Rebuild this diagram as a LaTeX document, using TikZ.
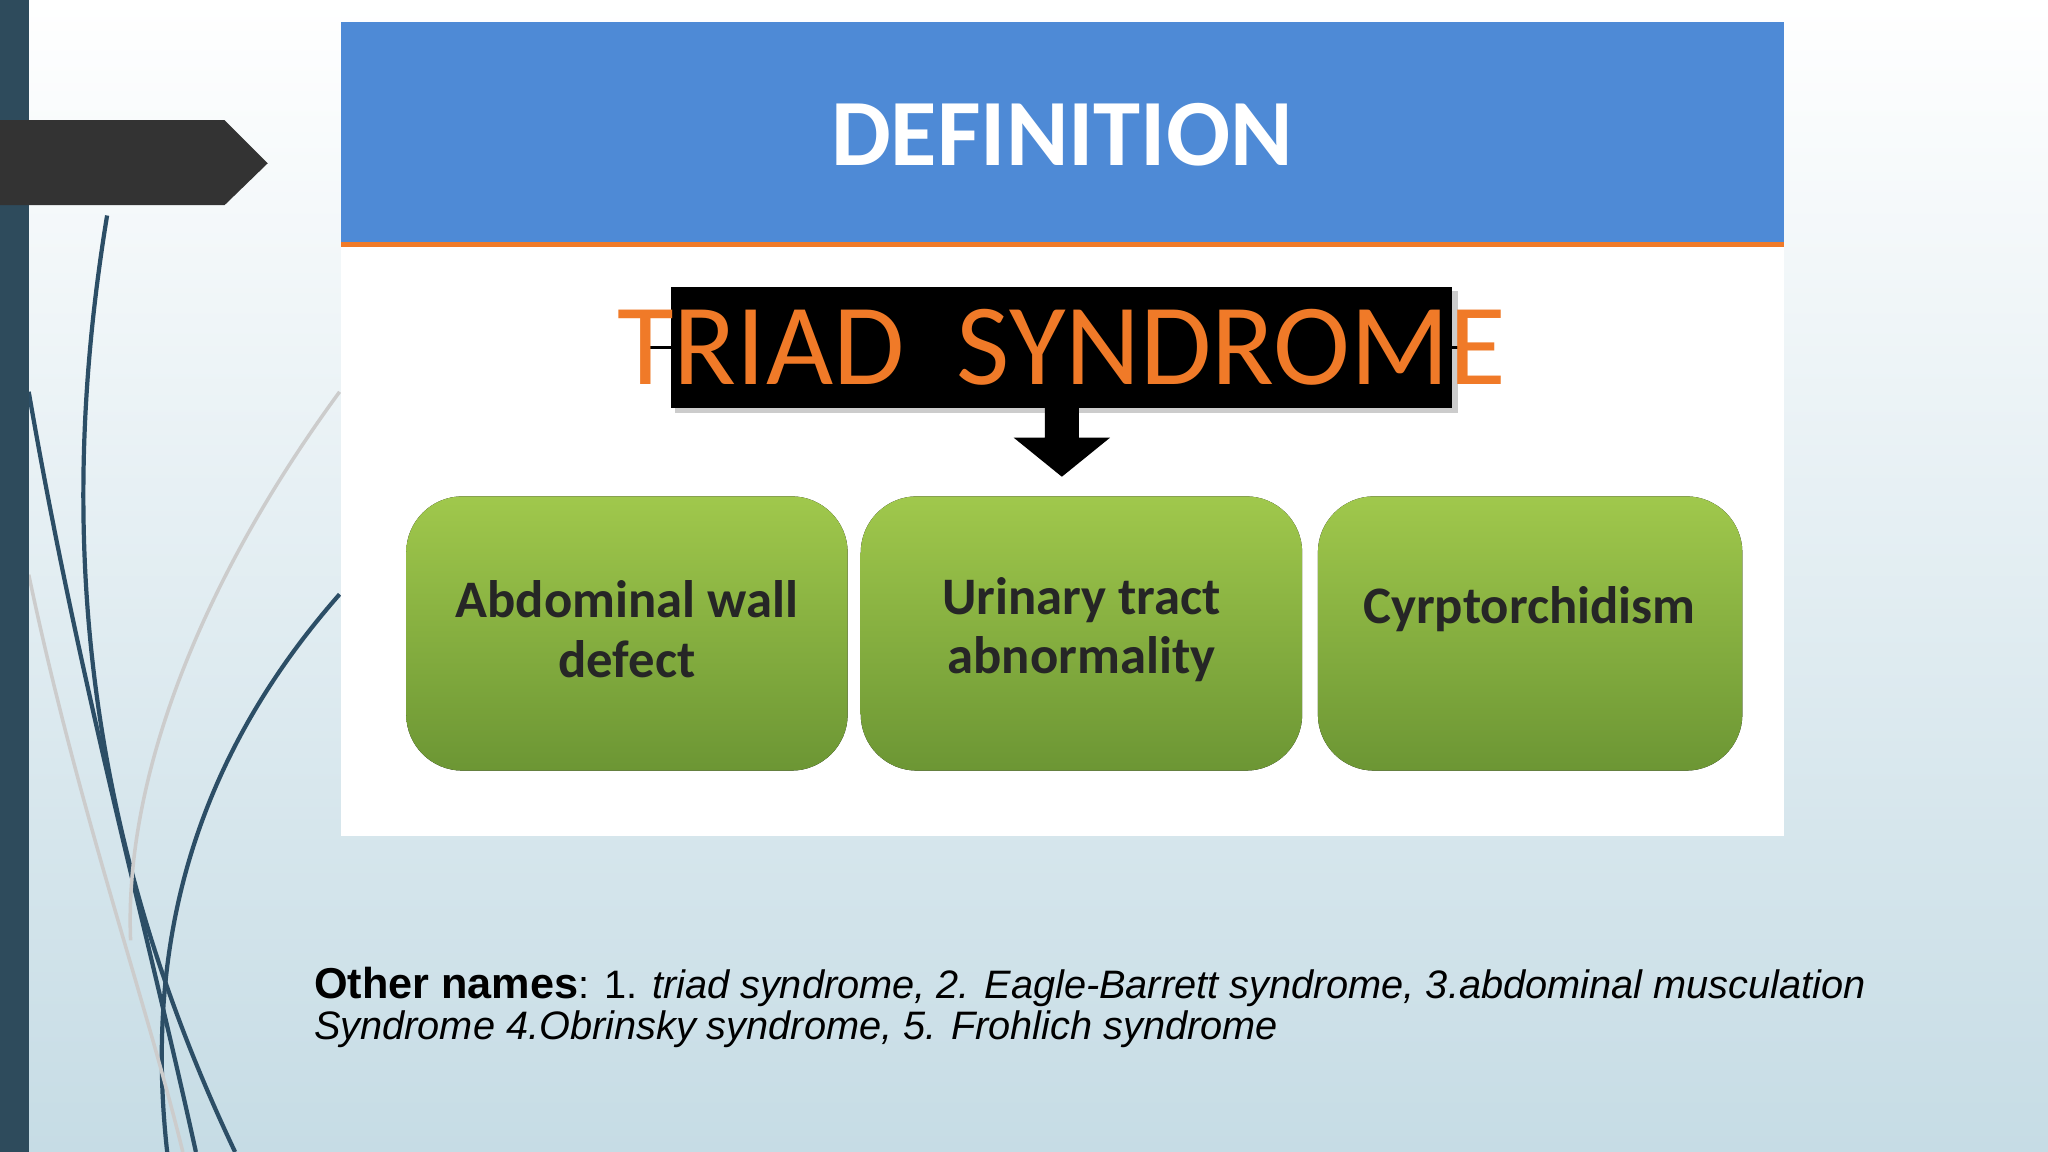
\documentclass[tikz,border=0pt]{standalone}
\usepackage{fontspec}
\setmainfont{Liberation Sans}
\newfontfamily\cali{Carlito}
\begin{document}
\begin{tikzpicture}[x=0.01306cm,y=-0.01306cm,
  gbox/.style={draw=none,rounded corners=16pt,top color=green1,bottom color=green2},
  gtxt/.style={font=\cali\bfseries\fontsize{15}{17}\selectfont,text=black!85,align=center},
  curve/.style={line width=1.2pt,draw=curvecol}]
\definecolor{bgbot}{HTML}{C6DCE5}
\definecolor{barcol}{HTML}{2E4B5C}
\definecolor{curvecol}{HTML}{2C4E66}
\definecolor{hdr}{HTML}{4E8AD6}
\definecolor{orng}{HTML}{F07A28}
\definecolor{green1}{HTML}{A0C84C}
\definecolor{green2}{HTML}{6C9634}
\useasboundingbox (0,0) rectangle (1568,882);
\shade[top color=white,bottom color=bgbot] (0,0) rectangle (1568,882);
% curves
\draw[curve] (82,165) .. controls (40,420) and (70,650) .. (180,882);
\draw[curve] (22,300) .. controls (60,520) and (110,700) .. (150,882);
\draw[curve] (260,455) .. controls (150,580) and (110,720) .. (128,882);
\draw[line width=1pt,draw=gray!40] (260,300) .. controls (150,450) and (95,600) .. (100,720);
\draw[line width=1pt,draw=gray!40] (22,440) .. controls (60,620) and (110,760) .. (140,882);
% left bar and tab
\fill[barcol] (0,0) rectangle (22,882);
\fill[black!80] (0,92) -- (172,92) -- (205,125) -- (172,157) -- (0,157) -- cycle;
% image
\fill[white] (261,17) rectangle (1366,640);
\fill[hdr] (261,17) rectangle (1366,186);
\fill[orng] (261,185) rectangle (1366,189);
\node[font=\cali\bfseries\fontsize{27}{30}\selectfont,text=white] (def) at (813,103) {DEFINITION};
\fill[gray!40] (517,223) rectangle (1116,316);
\node[fill=black,minimum width=598\pgflinewidth,inner sep=0pt] (tb) at (813,266) {};
\fill[black] (514,220) rectangle (1112,312);
\node[font=\cali\fontsize{33}{36}\selectfont,text=orng] (triad) at (813,266) {TRIAD\ \ SYNDROME};
\fill[black] (800,311) -- (826,311) -- (826,335) -- (850,335) -- (813,365) -- (776,335) -- (800,335) -- cycle;
\coordinate (tip) at (813,365);
% green boxes
\fill[gbox] (311,380) rectangle (649,590);
\fill[gbox] (659,380) rectangle (997,590);
\fill[gbox] (1009,380) rectangle (1334,590);
\node[gtxt] (b1) at (480,482) {Abdominal wall\\defect};
\node[gtxt] (b2) at (828,482) {Urinary tract\\abnormality};
\node[gtxt] (b3) at (1171,466) {Cyrptorchidism};
% bottom text
\node[anchor=north west,align=left,inner sep=0pt,font=\fontsize{11.3}{11.6}\selectfont] (names) at (240,740)
{{\fontsize{12.3}{11.6}\selectfont\bfseries Other names}: 1. \textit{triad syndrome, 2. Eagle-Barrett syndrome, 3.abdominal musculation}\\
\textit{Syndrome 4.Obrinsky syndrome, 5. Frohlich syndrome}};
\end{tikzpicture}
\end{document}
